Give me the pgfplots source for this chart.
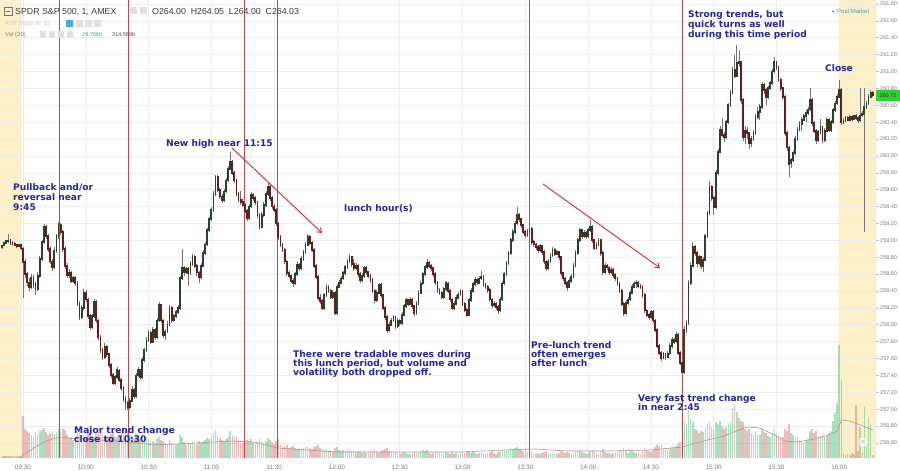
\documentclass[border=0pt]{standalone}
\usepackage{pgfplots}
\pgfplotsset{compat=1.18}
\usepackage{pgfplotstable}
\usepackage{fontspec}
\setmainfont{Liberation Sans}
\newfontfamily\annfont{DejaVu Sans}
\usetikzlibrary{arrows.meta}
\definecolor{annblue}{RGB}{38,38,150}
\definecolor{redln}{RGB}{178,78,78}
\definecolor{arrowred}{RGB}{210,60,60}
\definecolor{yel}{RGB}{253,240,200}
\definecolor{gridc}{RGB}{236,236,236}
\definecolor{upc}{RGB}{38,68,44}
\definecolor{dnc}{RGB}{100,30,30}
\definecolor{wickc}{RGB}{115,115,115}
\definecolor{vup}{RGB}{90,190,130}
\definecolor{vdn}{RGB}{220,120,120}
\definecolor{mac}{RGB}{170,150,140}
\definecolor{tickc}{RGB}{125,125,125}
\definecolor{hdr1}{RGB}{60,60,60}
\definecolor{hdr2}{RGB}{55,55,55}
\definecolor{iconblue}{RGB}{70,170,220}
\definecolor{volgreen}{RGB}{70,170,100}
\definecolor{teal}{RGB}{60,170,170}
\definecolor{pricegreen}{RGB}{50,205,50}

\pgfplotstableread{
m o h l c v
-10 258.92 258.95 258.90 258.94 15
-9 258.94 258.98 258.93 258.97 20
-8 258.97 259.01 258.96 258.99 18
-7 258.99 259.08 258.97 259.00 25
-6 259.00 259.01 258.95 258.97 15
-5 258.97 258.99 258.94 258.96 12
-4 258.96 258.98 258.93 258.95 14
-3 258.95 258.96 258.91 258.93 16
-2 258.93 258.96 258.92 258.95 12
-1 258.95 258.96 258.89 258.91 20
0 258.90 258.92 258.32 258.74 470
1 258.74 258.78 258.55 258.60 330
2 258.60 258.63 258.46 258.50 300
3 258.50 258.55 258.40 258.45 280
4 258.45 258.60 258.42 258.56 260
5 258.56 258.59 258.44 258.48 240
6 258.48 258.51 258.35 258.42 290
7 258.42 258.62 258.40 258.58 270
8 258.58 258.82 258.55 258.78 300
9 258.78 259.00 258.75 258.98 310
10 258.98 259.20 258.96 259.16 340
11 259.16 259.18 259.02 259.05 290
12 259.05 259.07 258.86 258.90 260
13 258.90 258.93 258.72 258.75 280
14 258.75 258.78 258.64 258.68 300
15 258.68 258.92 258.66 258.88 270
16 258.88 259.08 258.85 259.05 290
17 259.05 259.22 259.02 259.18 320
18 259.18 259.20 259.06 259.10 300
19 259.10 259.12 258.86 258.90 330
20 258.90 258.93 258.66 258.70 310
21 258.70 258.73 258.55 258.59 260
22 258.59 258.66 258.56 258.62 220
23 258.62 258.64 258.49 258.52 240
24 258.52 258.58 258.50 258.56 200
25 258.56 258.58 258.46 258.49 230
26 258.49 258.52 258.22 258.25 290
27 258.25 258.28 258.05 258.09 310
28 258.09 258.23 258.07 258.20 250
29 258.20 258.42 258.18 258.38 260
30 258.38 258.41 258.27 258.30 230
31 258.30 258.32 258.07 258.10 280
32 258.10 258.13 257.94 257.97 300
33 257.97 258.13 257.95 258.10 250
34 258.10 258.30 258.08 258.27 240
35 258.27 258.29 258.02 258.05 270
36 258.05 258.07 257.82 257.85 290
37 257.85 257.88 257.67 257.70 300
38 257.70 257.73 257.58 257.62 270
39 257.62 257.78 257.60 257.74 240
40 257.74 257.76 257.62 257.65 220
41 257.65 257.67 257.49 257.52 250
42 257.52 257.55 257.37 257.40 270
43 257.40 257.43 257.28 257.31 290
44 257.31 257.41 257.29 257.38 230
45 257.38 257.50 257.36 257.46 240
46 257.46 257.48 257.32 257.35 260
47 257.35 257.37 257.22 257.25 280
48 257.25 257.27 257.09 257.12 300
49 257.12 257.15 256.99 257.07 330
50 257.07 257.10 256.99 257.02 310
51 257.02 257.13 257.00 257.10 260
52 257.10 257.27 257.08 257.23 250
53 257.23 257.25 257.12 257.15 220
54 257.15 257.43 257.13 257.40 270
55 257.40 257.50 257.38 257.46 240
56 257.46 257.48 257.35 257.38 200
57 257.38 257.62 257.36 257.58 250
58 257.58 257.73 257.56 257.70 230
59 257.70 257.86 257.68 257.82 240
60 257.82 257.94 257.80 257.90 210
61 257.90 257.92 257.77 257.80 180
62 257.80 257.97 257.78 257.94 190
63 257.94 257.96 257.82 257.85 170
64 257.85 258.08 257.83 258.05 210
65 258.05 258.27 258.03 258.23 230
66 258.23 258.25 258.02 258.05 200
67 258.05 258.07 257.84 257.88 190
68 257.88 257.95 257.82 257.92 160
69 257.92 258.04 257.90 258.00 150
70 258.00 258.24 257.98 258.20 200
71 258.20 258.22 258.02 258.05 170
72 258.05 258.13 258.03 258.10 140
73 258.10 258.18 258.08 258.15 150
74 258.15 258.23 258.13 258.20 160
75 258.20 258.58 258.18 258.55 260
76 258.55 258.90 258.53 258.68 230
77 258.68 258.70 258.58 258.62 180
78 258.62 258.69 258.60 258.66 150
79 258.66 258.68 258.46 258.61 170
80 258.61 258.75 258.59 258.72 160
81 258.72 258.84 258.70 258.80 180
82 258.80 258.82 258.67 258.70 170
83 258.70 258.72 258.58 258.62 160
84 258.62 258.64 258.50 258.56 190
85 258.56 258.73 258.54 258.70 170
86 258.70 258.88 258.68 258.85 180
87 258.85 258.98 258.83 258.95 200
88 258.95 259.15 258.93 259.12 220
89 259.12 259.28 259.10 259.25 210
90 259.25 259.39 259.23 259.36 230
91 259.36 259.58 259.34 259.55 280
92 259.55 259.78 259.53 259.75 310
93 259.75 259.77 259.57 259.60 260
94 259.60 259.62 259.49 259.52 220
95 259.52 259.55 259.44 259.48 200
96 259.48 259.61 259.46 259.58 190
97 259.58 259.74 259.56 259.71 210
98 259.71 259.88 259.69 259.85 240
99 259.85 260.05 259.83 259.93 300
100 259.93 259.95 259.77 259.80 260
101 259.80 259.82 259.68 259.71 230
102 259.71 259.73 259.52 259.55 250
103 259.55 259.57 259.45 259.48 200
104 259.48 259.58 259.42 259.45 180
105 259.45 259.49 259.39 259.42 170
106 259.42 259.44 259.32 259.35 180
107 259.35 259.37 259.23 259.26 200
108 259.26 259.43 259.24 259.40 190
109 259.40 259.57 259.38 259.54 210
110 259.54 259.56 259.47 259.50 170
111 259.50 259.52 259.42 259.45 160
112 259.45 259.47 259.27 259.30 190
113 259.30 259.32 259.12 259.16 210
114 259.16 259.33 259.14 259.30 180
115 259.30 259.45 259.28 259.42 170
116 259.42 259.58 259.40 259.55 190
117 259.55 259.68 259.53 259.63 220
118 259.63 259.65 259.47 259.50 200
119 259.50 259.52 259.37 259.40 180
120 259.40 259.43 259.33 259.36 160
121 259.36 259.38 259.17 259.20 190
122 259.20 259.22 259.01 259.04 210
123 259.04 259.06 258.92 258.95 140
124 258.95 258.97 258.86 258.89 120
125 258.89 258.91 258.72 258.75 130
126 258.75 258.77 258.58 258.61 140
127 258.61 258.64 258.55 258.58 110
128 258.58 258.60 258.49 258.52 120
129 258.52 258.55 258.45 258.49 130
130 258.49 258.63 258.47 258.60 110
131 258.60 258.74 258.58 258.71 100
132 258.71 258.73 258.64 258.67 90
133 258.67 258.81 258.65 258.78 100
134 258.78 258.89 258.76 258.86 110
135 258.86 258.98 258.84 258.95 120
136 258.95 259.08 258.93 259.04 130
137 259.04 259.06 258.94 258.97 110
138 258.97 258.99 258.86 258.89 100
139 258.89 258.91 258.67 258.70 120
140 258.70 258.72 258.54 258.57 130
141 258.57 258.59 258.29 258.32 140
142 258.32 258.36 258.25 258.28 110
143 258.28 258.30 258.17 258.20 100
144 258.20 258.38 258.18 258.35 90
145 258.35 258.48 258.33 258.45 100
146 258.45 258.47 258.37 258.40 80
147 258.40 258.42 258.30 258.33 90
148 258.33 258.41 258.31 258.38 80
149 258.38 258.40 258.11 258.14 110
150 258.14 258.48 258.12 258.45 120
151 258.45 258.53 258.43 258.50 90
152 258.50 258.58 258.48 258.55 80
153 258.55 258.64 258.53 258.61 90
154 258.61 258.71 258.59 258.68 80
155 258.68 258.78 258.66 258.75 90
156 258.75 258.84 258.73 258.80 100
157 258.80 258.82 258.69 258.72 80
158 258.72 258.78 258.64 258.67 70
159 258.67 258.73 258.65 258.70 60
160 258.70 258.72 258.57 258.60 80
161 258.60 258.62 258.50 258.53 70
162 258.53 258.61 258.51 258.58 60
163 258.58 258.70 258.56 258.67 70
164 258.67 258.69 258.59 258.62 60
165 258.62 258.64 258.55 258.58 60
166 258.58 258.60 258.50 258.53 70
167 258.53 258.55 258.37 258.40 80
168 258.40 258.42 258.26 258.29 90
169 258.29 258.41 258.27 258.38 70
170 258.38 258.50 258.36 258.47 60
171 258.47 258.49 258.32 258.35 80
172 258.35 258.37 258.17 258.20 90
173 258.20 258.22 258.06 258.09 100
174 258.09 258.11 257.90 257.94 110
175 257.94 258.03 257.92 258.00 80
176 258.00 258.08 257.98 258.05 70
177 258.05 258.12 258.03 258.09 60
178 258.09 258.11 257.95 257.98 70
179 257.98 258.08 257.96 258.05 60
180 258.05 258.07 257.99 258.02 50
181 258.02 258.15 258.00 258.12 60
182 258.12 258.25 258.10 258.22 70
183 258.22 258.32 258.20 258.29 60
184 258.29 258.31 258.22 258.25 50
185 258.25 258.33 258.23 258.30 50
186 258.30 258.32 258.19 258.22 60
187 258.22 258.24 258.11 258.14 70
188 258.14 258.28 258.12 258.25 60
189 258.25 258.41 258.23 258.38 70
190 258.38 258.52 258.36 258.49 80
191 258.49 258.63 258.47 258.60 90
192 258.60 258.71 258.58 258.68 80
193 258.68 258.78 258.66 258.73 90
194 258.73 258.75 258.67 258.70 60
195 258.70 258.72 258.64 258.67 50
196 258.67 258.69 258.57 258.60 60
197 258.60 258.62 258.47 258.50 70
198 258.50 258.52 258.38 258.41 80
199 258.41 258.43 258.35 258.38 60
200 258.38 258.40 258.30 258.33 50
201 258.33 258.45 258.31 258.42 60
202 258.42 258.52 258.40 258.49 70
203 258.49 258.51 258.37 258.40 60
204 258.40 258.42 258.27 258.30 50
205 258.30 258.32 258.17 258.20 70
206 258.20 258.28 258.18 258.25 50
207 258.25 258.35 258.23 258.32 60
208 258.32 258.39 258.30 258.36 50
209 258.36 258.42 258.34 258.39 60
210 258.39 258.41 258.22 258.25 70
211 258.25 258.27 258.15 258.18 60
212 258.18 258.20 258.09 258.12 80
213 258.12 258.32 258.10 258.29 70
214 258.29 258.43 258.27 258.40 60
215 258.40 258.51 258.38 258.48 70
216 258.48 258.56 258.46 258.53 60
217 258.53 258.55 258.47 258.50 50
218 258.50 258.58 258.48 258.55 60
219 258.55 258.64 258.53 258.57 70
220 258.57 258.59 258.45 258.48 60
221 258.48 258.50 258.42 258.45 50
222 258.45 258.47 258.38 258.41 60
223 258.41 258.43 258.27 258.30 70
224 258.30 258.32 258.20 258.23 80
225 258.23 258.28 258.21 258.25 60
226 258.25 258.27 258.18 258.21 50
227 258.21 258.23 258.13 258.17 70
228 258.17 258.33 258.15 258.30 80
229 258.30 258.52 258.28 258.49 90
230 258.49 258.63 258.47 258.60 80
231 258.60 258.76 258.58 258.73 90
232 258.73 258.88 258.71 258.85 100
233 258.85 259.03 258.83 259.00 110
234 259.00 259.13 258.98 259.10 100
235 259.10 259.23 259.08 259.20 110
236 259.20 259.40 259.18 259.30 120
237 259.30 259.32 259.22 259.25 100
238 259.25 259.27 259.15 259.18 90
239 259.18 259.20 259.07 259.10 80
240 259.10 259.12 259.03 259.06 90
241 259.06 259.13 259.04 259.10 70
242 259.10 259.17 259.08 259.14 110
243 259.14 259.16 258.95 258.98 80
244 258.98 259.00 258.92 258.95 60
245 258.95 258.97 258.89 258.92 50
246 258.92 258.94 258.85 258.88 60
247 258.88 258.96 258.86 258.93 50
248 258.93 258.95 258.83 258.86 60
249 258.86 258.88 258.72 258.75 70
250 258.75 258.77 258.64 258.67 80
251 258.67 258.78 258.65 258.75 60
252 258.75 258.85 258.73 258.82 50
253 258.82 258.92 258.80 258.89 60
254 258.89 258.91 258.81 258.84 50
255 258.84 258.89 258.82 258.86 50
256 258.86 258.88 258.77 258.80 60
257 258.80 258.82 258.58 258.61 80
258 258.61 258.63 258.52 258.55 70
259 258.55 258.57 258.47 258.50 60
260 258.50 258.52 258.40 258.45 70
261 258.45 258.55 258.43 258.52 60
262 258.52 258.60 258.50 258.57 50
263 258.57 258.73 258.55 258.70 60
264 258.70 258.88 258.68 258.85 70
265 258.85 259.03 258.83 259.00 80
266 259.00 259.15 258.98 259.12 90
267 259.12 259.14 259.02 259.05 70
268 259.05 259.12 259.03 259.09 60
269 259.09 259.11 259.02 259.05 50
270 259.05 259.15 259.03 259.12 60
271 259.12 259.24 259.10 259.16 80
272 259.16 259.18 258.97 259.00 90
273 259.00 259.02 258.88 258.91 70
274 258.91 258.98 258.89 258.95 60
275 258.95 259.03 258.93 259.00 50
276 259.00 259.02 258.82 258.85 80
277 258.85 258.87 258.59 258.62 100
278 258.62 258.73 258.60 258.70 70
279 258.70 258.72 258.65 258.68 60
280 258.68 258.70 258.59 258.62 60
281 258.62 258.68 258.60 258.65 50
282 258.65 258.67 258.56 258.59 60
283 258.59 258.61 258.52 258.55 60
284 258.55 258.57 258.46 258.49 70
285 258.49 258.51 258.37 258.40 80
286 258.40 258.42 258.22 258.25 90
287 258.25 258.27 258.10 258.14 110
288 258.14 258.29 258.12 258.26 80
289 258.26 258.33 258.24 258.30 60
290 258.30 258.41 258.28 258.38 70
291 258.38 258.48 258.36 258.45 80
292 258.45 258.52 258.43 258.49 70
293 258.49 258.53 258.44 258.50 60
294 258.50 258.52 258.43 258.46 60
295 258.46 258.48 258.42 258.45 50
296 258.45 258.47 258.32 258.35 80
297 258.35 258.37 258.14 258.17 110
298 258.17 258.19 258.09 258.12 90
299 258.12 258.14 258.06 258.09 80
300 258.09 258.18 258.07 258.15 70
301 258.15 258.17 258.02 258.05 90
302 258.05 258.07 257.91 257.94 120
303 257.94 257.96 257.72 257.75 150
304 257.75 257.77 257.64 257.67 130
305 257.67 257.69 257.57 257.61 140
306 257.61 257.68 257.59 257.65 110
307 257.65 257.67 257.58 257.62 100
308 257.62 257.69 257.60 257.66 90
309 257.66 257.78 257.64 257.75 100
310 257.75 257.85 257.73 257.82 120
311 257.82 257.84 257.77 257.80 110
312 257.80 257.92 257.78 257.88 130
313 257.88 257.90 257.64 257.67 160
314 257.67 257.69 257.52 257.55 180
315 257.55 257.58 257.40 257.44 200
316 257.44 257.98 257.42 257.94 420
317 257.94 258.06 257.90 258.02 380
318 258.02 258.53 258.00 258.49 540
319 258.49 258.74 258.47 258.70 450
320 258.70 258.98 258.68 258.92 400
321 258.92 258.94 258.82 258.85 330
322 258.85 258.87 258.68 258.73 310
323 258.73 258.83 258.71 258.80 280
324 258.80 258.82 258.66 258.70 300
325 258.70 258.80 258.62 258.77 290
326 258.77 259.08 258.75 259.05 340
327 259.05 259.35 259.03 259.32 380
328 259.32 259.70 259.30 259.63 420
329 259.63 259.65 259.47 259.50 350
330 259.50 259.52 259.30 259.39 330
331 259.39 259.83 259.37 259.80 400
332 259.80 260.08 259.78 260.05 380
333 260.05 260.35 260.03 260.31 420
334 260.31 260.45 260.22 260.25 360
335 260.25 260.28 260.16 260.22 330
336 260.22 260.43 260.20 260.40 350
337 260.40 260.63 260.38 260.60 380
338 260.60 260.78 260.58 260.75 400
339 260.75 261.05 260.73 261.02 560
340 261.02 261.20 260.92 260.95 600
341 260.95 261.31 260.93 261.10 520
342 261.10 261.25 261.05 261.11 450
343 261.11 261.13 260.62 260.66 420
344 260.66 260.68 260.18 260.22 400
345 260.22 260.36 260.14 260.30 330
346 260.30 260.34 260.20 260.27 300
347 260.27 260.29 260.08 260.15 320
348 260.15 260.24 260.10 260.20 280
349 260.20 260.31 260.18 260.27 260
350 260.27 260.50 260.25 260.46 300
351 260.46 260.58 260.44 260.52 270
352 260.52 260.62 260.42 260.58 260
353 260.58 260.88 260.56 260.84 330
354 260.84 260.86 260.74 260.78 290
355 260.78 260.80 260.60 260.70 280
356 260.70 260.83 260.68 260.80 250
357 260.80 260.89 260.78 260.86 240
358 260.86 261.03 260.84 261.00 280
359 261.00 261.17 260.98 261.11 320
360 261.11 261.13 261.02 261.05 260
361 261.05 261.07 260.87 260.90 250
362 260.90 260.92 260.77 260.80 230
363 260.80 260.82 260.66 260.70 240
364 260.70 260.72 260.24 260.27 330
365 260.27 260.29 260.06 260.10 300
366 260.10 260.12 259.75 259.91 380
367 259.91 259.98 259.86 259.95 280
368 259.95 260.06 259.93 260.03 260
369 260.03 260.23 260.01 260.20 240
370 260.20 260.34 260.18 260.31 230
371 260.31 260.41 260.29 260.38 200
372 260.38 260.46 260.30 260.43 190
373 260.43 260.50 260.41 260.47 180
374 260.47 260.54 260.40 260.51 200
375 260.51 260.58 260.49 260.55 210
376 260.55 260.80 260.53 260.66 300
377 260.66 260.68 260.36 260.39 330
378 260.39 260.41 260.27 260.30 280
379 260.30 260.32 260.14 260.19 300
380 260.19 260.31 260.17 260.28 240
381 260.28 260.44 260.26 260.34 250
382 260.34 260.36 260.15 260.19 270
383 260.19 260.33 260.17 260.30 240
384 260.30 260.46 260.28 260.43 260
385 260.43 260.45 260.28 260.31 280
386 260.31 260.43 260.29 260.40 300
387 260.40 260.57 260.38 260.54 420
388 260.54 260.65 260.52 260.62 500
389 260.62 260.73 260.60 260.70 620
390 260.70 260.90 260.68 260.78 1265
391 260.78 260.80 260.37 260.40 870
392 260.40 260.45 260.38 260.42 50
393 260.42 260.47 260.40 260.45 30
394 260.45 260.47 260.41 260.43 40
395 260.43 260.48 260.42 260.46 30
396 260.46 260.48 260.41 260.44 60
397 260.44 260.49 260.43 260.47 40
398 260.47 260.50 260.43 260.45 590
399 260.45 260.47 260.39 260.42 80
400 260.42 260.80 260.40 260.48 350
401 260.48 260.53 260.46 260.50 60
402 260.50 260.80 259.10 260.58 570
403 260.58 260.65 260.56 260.62 120
404 260.62 260.74 260.60 260.70 460
405 260.70 260.78 260.68 260.75 370
406 260.75 260.77 260.70 260.72 30
}\data

\pgfplotstableread{
m v
-10 11
-1 11
0 34
3 78
6 123
10 179
14 213
18 235
22 224
28 213
35 202
45 190
55 168
62 146
75 157
90 179
100 190
110 179
122 112
135 90
150 67
180 67
210 67
230 90
245 101
260 78
280 78
300 90
310 112
315 123
325 190
335 246
342 314
346 347
352 336
358 269
364 190
370 179
378 213
385 258
389 302
391 426
395 414
400 370
406 315
}\vma

\pgfplotsset{
  base/.style={scale only axis, width=876pt, height=458pt, xmin=-10.989, xmax=407.55,
    at={(0pt,13pt)}, anchor=south west},
}

\newcommand{\ann}[3]{\node[anchor=base west, inner sep=0pt, text=annblue, font=\annfont\bfseries\fontsize{9.1}{9}\selectfont] at (#1pt,#2pt) {#3};}

\begin{document}
\begin{tikzpicture}
\path[use as bounding box, fill=white] (0,0) rectangle (900pt,471pt);

% background axis: sessions, grid, ticks
\begin{axis}[base, ymin=256.421, ymax=261.847, axis on top,
  axis line style={draw=none},
  scaled y ticks=false,
  xtick={0,30,60,90,120,150,180,210,240,270,300,330,360,390},
  xticklabels={09:30,10:00,10:30,11:00,11:30,12:00,12:30,13:00,13:30,14:00,14:30,15:00,15:30,16:00},
  ytick={256.6,256.8,257.0,257.2,257.4,257.6,257.8,258.0,258.2,258.4,258.6,258.8,259.0,259.2,259.4,259.6,259.8,260.0,260.2,260.4,260.6,260.8,261.0,261.2,261.4,261.6,261.8},
  grid=major, grid style={gridc, line width=0.5pt},
  ytick pos=right, yticklabel pos=right, xtick pos=bottom,
  tick align=outside, major tick length=3pt,
  xtick style={draw=none}, ytick style={draw=black!25, line width=0.5pt},
  /pgf/number format/assume math mode=true,
  yticklabel style={/pgf/number format/fixed, /pgf/number format/fixed zerofill, /pgf/number format/precision=2,
     font=\fontsize{5.5}{6}\selectfont, text=tickc, anchor=west, inner sep=0pt, xshift=1pt},
  xticklabel style={font=\fontsize{6.4}{7}\selectfont, text=tickc, anchor=base, inner sep=0pt, yshift=-8.3pt},
]
\fill[yel] (axis cs:-10.989,256.421) rectangle (axis cs:-0.5,261.847);
\fill[yel] (axis cs:390.5,256.421) rectangle (axis cs:407.55,261.847);
\draw[black!25, line width=0.6pt] (rel axis cs:0,0) -- (rel axis cs:1,0);
\draw[black!25, line width=0.6pt] (rel axis cs:1,0) -- (rel axis cs:1,1);
\end{axis}

% volume overlay
\begin{axis}[base, ymin=0, ymax=5130, hide axis]
\addplot[ycomb, mark=none, draw=vup, draw opacity=0.5, line width=1.6pt, restrict y to domain=0:100000]
  table[x=m, y expr={(\thisrow{c}>=\thisrow{o})*(\thisrow{v}+1)-1}] {\data};
\addplot[ycomb, mark=none, draw=vdn, draw opacity=0.5, line width=1.6pt, restrict y to domain=0:100000]
  table[x=m, y expr={(\thisrow{c}<\thisrow{o})*(\thisrow{v}+1)-1}] {\data};
\addplot[mark=none, draw=mac, line width=0.6pt] table[x=m, y=v] {\vma};
\end{axis}

% marker lines (annotation), drawn beneath the candles
\begin{scope}[draw opacity=1]
\draw[redln, line width=1pt] (59.5pt,13pt) -- (59.5pt,471pt);
\draw[redln, line width=1pt] (128.1pt,13pt) -- (128.1pt,471pt);
\draw[redln, line width=1pt] (244.0pt,13pt) -- (244.0pt,471pt);
\draw[redln, line width=1pt] (277.0pt,13pt) -- (277.0pt,471pt);
\draw[redln, line width=1pt] (529.0pt,13pt) -- (529.0pt,471pt);
\draw[redln, line width=1pt] (682.1pt,13pt) -- (682.1pt,471pt);
\end{scope}

% price overlay
\begin{axis}[base, ymin=256.421, ymax=261.847, hide axis]
\addplot[mark=none, draw=none, forget plot, error bars/.cd, y dir=both, y explicit, error mark=none,
  error bar style={line width=0.55pt, draw=wickc, solid}]
  table[x=m, y expr={(\thisrow{h}+\thisrow{l})/2}, y error expr={(\thisrow{h}-\thisrow{l})/2}] {\data};
\addplot[mark=none, draw=none, forget plot, restrict y to domain=250:270, error bars/.cd, y dir=both, y explicit, error mark=none,
  error bar style={line width=1.8pt, draw=upc, solid, line cap=rect}]
  table[x=m, y expr={(\thisrow{c}>=\thisrow{o})*((\thisrow{o}+\thisrow{c})/2+1000)-1000}, y error expr={abs(\thisrow{c}-\thisrow{o})/2}] {\data};
\addplot[mark=none, draw=none, forget plot, restrict y to domain=250:270, error bars/.cd, y dir=both, y explicit, error mark=none,
  error bar style={line width=1.8pt, draw=dnc, solid, line cap=rect}]
  table[x=m, y expr={(\thisrow{c}<\thisrow{o})*((\thisrow{o}+\thisrow{c})/2+1000)-1000}, y error expr={abs(\thisrow{c}-\thisrow{o})/2}] {\data};
\draw[arrowred, line width=1pt, -{Straight Barb[length=4pt,width=6pt]}] (axis cs:99.86,260.094) -- (axis cs:142.86,259.087);
\draw[arrowred, line width=1pt, -{Straight Barb[length=4pt,width=6pt]}] (axis cs:248.45,259.667) -- (axis cs:304.35,258.672);
\end{axis}

% annotations
\ann{13}{280.5}{Pullback and/or}
\ann{13}{270.5}{reversal near}
\ann{13}{260.5}{9:45}
\ann{166}{324.5}{New high near 11:15}
\ann{344}{259.5}{lunch hour(s)}
\ann{293}{113.5}{There were tradable moves during}
\ann{293}{104.5}{this lunch period, but volume and}
\ann{293}{95.5}{volatility both dropped off.}
\ann{531}{122.5}{Pre-lunch trend}
\ann{531}{113.5}{often emerges}
\ann{531}{104.5}{after lunch}
\ann{638}{69.5}{Very fast trend change}
\ann{638}{60.5}{in near 2:45}
\ann{74}{37.5}{Major trend change}
\ann{74}{28.5}{close to 10:30}
\ann{688}{453.5}{Strong trends, but}
\ann{688}{443.5}{quick turns as well}
\ann{688}{433.5}{during this time period}
\ann{825}{399.5}{Close}

% header
\draw[black!55, line width=0.5pt] (4pt,456pt) rectangle (12pt,464pt);
\draw[black!55, line width=0.5pt] (6pt,460pt) -- (10pt,460pt);
\node[anchor=base west, inner sep=0pt, text=hdr1, font=\fontsize{8.8}{9}\selectfont] at (15pt,456.5pt) {SPDR S\&P 500, 1, AMEX};
\fill[black!12] (130pt,457pt) rectangle (137pt,464pt);
\fill[black!12] (140pt,457pt) rectangle (147pt,464pt);
\node[anchor=base west, inner sep=0pt, text=hdr2, font=\fontsize{8.8}{9}\selectfont] at (152pt,456.5pt) {O264.00\ \ H264.05\ \ L264.00\ \ C264.03};
\node[anchor=base west, inner sep=0pt, text=black!20, font=\fontsize{6}{7}\selectfont] at (5pt,445pt) {ATR Stops (6, 3)};
\fill[iconblue] (66pt,444pt) rectangle (73pt,451pt);
\fill[black!12] (76pt,444pt) rectangle (83pt,451pt);
\fill[black!12] (85pt,444pt) rectangle (92pt,451pt);
\fill[black!12] (94pt,444pt) rectangle (101pt,451pt);
\node[anchor=base west, inner sep=0pt, text=black!50, font=\fontsize{6}{7}\selectfont] at (5pt,434pt) {Vol (20)};
\fill[black!12] (40pt,433pt) rectangle (46pt,440pt);
\fill[black!12] (49pt,433pt) rectangle (55pt,440pt);
\fill[black!12] (58pt,433pt) rectangle (64pt,440pt);
\fill[black!12] (67pt,433pt) rectangle (73pt,440pt);
\node[anchor=base west, inner sep=0pt, text=volgreen, font=\fontsize{5.5}{6}\selectfont] at (82pt,434pt) {29.786K};
\node[anchor=base west, inner sep=0pt, text=black!70, font=\fontsize{5.5}{6}\selectfont] at (112pt,434pt) {314.568K};
% post market
\fill[teal] (833pt,459.5pt) circle (1.2pt);
\node[anchor=base west, inner sep=0pt, text=teal, font=\fontsize{6}{7}\selectfont] at (837pt,457.5pt) {Post Market};
% last price box
\fill[pricegreen] (876pt,370pt) rectangle (900pt,381pt);
\node[inner sep=0pt, text=black!80, font=\fontsize{5.5}{6}\selectfont] at (888pt,375.5pt) {260.72};
% scroll button
\draw[black!20, fill=white, fill opacity=0.6] (863pt,29pt) circle (5.5pt);
\node[inner sep=0pt, text=black!40, font=\fontsize{6}{7}\selectfont] at (863pt,29pt) {»};
\end{tikzpicture}
\end{document}
